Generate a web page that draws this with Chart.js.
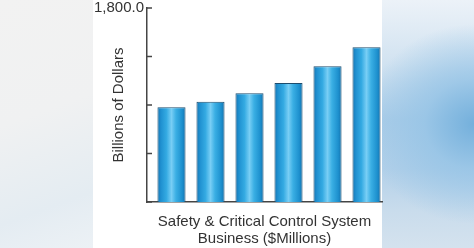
<!DOCTYPE html>
<html>
<head>
<meta charset="utf-8">
<script src="https://cdn.jsdelivr.net/npm/chart.js@4/dist/chart.umd.min.js"></script>
<style>
    html, body { margin: 0; padding: 0; }
    body { width: 474px; height: 248px; position: relative; overflow: hidden; }
    #leftBg { position: absolute; left: 0; top: 0; width: 93px; height: 248px;
        background: linear-gradient(160deg, #f2f2f2 0%, #f0f1f2 45%, #e4ecf2 80%, #ecf1f5 100%); }
    #panel { position: absolute; left: 93px; top: 0; width: 289px; height: 248px; background: #ffffff; }
    #rightBg { position: absolute; left: 382px; top: 0; width: 92px; height: 248px;
        background: radial-gradient(ellipse 110px 100px at 100% 50%, rgba(116,176,220,1) 0%, rgba(150,196,230,0.8) 45%, rgba(190,216,236,0) 100%),
                    linear-gradient(to bottom, #ecf2f8 0%, #d2e3f1 25%, #abcde8 48%, #b2d0e9 68%, #c9dcec 85%, #d4e2ee 100%); }
    #chartBox { position: absolute; left: 0; top: 0; width: 474px; height: 248px; }
</style>
</head>
<body>
<div id="leftBg"></div>
<div id="panel"></div>
<div id="rightBg"></div>
<div id="chartBox"><canvas id="business"></canvas></div>
<script>
// valores (escala 0 - 1.800)
const categories = ['1', '2', '3', '4', '5', '6'];
const businessValues = [880, 930, 1010, 1105, 1260, 1435];
const yTicks = [0, 450, 900, 1350, 1800];
const yTopLabel = '1,800.0';
const yTitle = 'Billions of Dollars';
const xTitle = ['Safety & Critical Control System', 'Business ($Millions)'];

const barPct = 0.72;
const textColor = '#333333';
const axisColor = '#454545';
const fontFamily = '"Liberation Sans", Arial, Helvetica, sans-serif';

// gradiente "cilindro" de cada barra
function barGradient(ctx) {
    const chart = ctx.chart;
    if (!chart.chartArea || ctx.type !== 'data') return '#2a9dd8';
    const xs = chart.scales.x;
    const cx = xs.getPixelForValue(ctx.dataIndex);
    const half = (xs.getPixelForValue(1) - xs.getPixelForValue(0)) * barPct / 2;
    const g = chart.ctx.createLinearGradient(cx - half, 0, cx + half, 0);
    g.addColorStop(0, '#1574b2');
    g.addColorStop(0.12, '#1f90d0');
    g.addColorStop(0.32, '#34aae2');
    g.addColorStop(0.5, '#78cef5');
    g.addColorStop(0.66, '#3aafe4');
    g.addColorStop(0.88, '#1d90ce');
    g.addColorStop(1, '#1472ae');
    return g;
}

// marcas do eixo y para dentro
const innerTicks = {
    id: 'innerTicks',
    afterDraw(chart) {
        const ctx = chart.ctx;
        const ys = chart.scales.y;
        const left = chart.chartArea.left;
        ctx.save();
        ctx.strokeStyle = axisColor;
        ctx.lineWidth = 1.5;
        yTicks.forEach(function (v) {
            const y = ys.getPixelForValue(v);
            ctx.beginPath();
            ctx.moveTo(left, y);
            ctx.lineTo(left + 5, y);
            ctx.stroke();
        });
        ctx.restore();
    }
};

new Chart('business', {
    type: 'bar',
    data: {
        labels: categories,
        datasets: [{
            label: 'Business',
            data: businessValues.map(function (v, i) { return { x: i, y: v }; }),
            backgroundColor: barGradient,
            borderColor: '#1d4d6e',
            borderWidth: 1,
            barPercentage: barPct,
            categoryPercentage: 1
        }]
    },
    options: {
        responsive: true,
        maintainAspectRatio: false,
        animation: false,
        layout: { padding: { left: 93, right: 92, top: 8, bottom: 0 } },
        plugins: { legend: { display: false }, tooltip: { enabled: false } },
        scales: {
            x: {
                type: 'linear',
                min: -0.628,
                max: 5.397,
                offset: false,
                grid: { display: false, offset: false },
                border: { display: true, color: axisColor, width: 1.5 },
                ticks: { display: false },
                title: {
                    display: true,
                    text: xTitle,
                    color: textColor,
                    font: { family: fontFamily, size: 15, lineHeight: 17 / 15 },
                    padding: { top: 0, bottom: 0.5 }
                },
                afterFit: function (scale) { scale.height = 46; }
            },
            y: {
                min: 0,
                max: 1800,
                grid: { display: false, drawTicks: false },
                border: { display: true, color: axisColor, width: 1.5 },
                ticks: {
                    stepSize: 450,
                    padding: 3,
                    color: textColor,
                    font: { family: fontFamily, size: 15 },
                    callback: function (v) { return v === 1800 ? yTopLabel : ''; }
                },
                title: {
                    display: true,
                    text: yTitle,
                    color: textColor,
                    font: { family: fontFamily, size: 15, lineHeight: 1.2 },
                    padding: { top: 17, bottom: 0 }
                },
                afterFit: function (scale) {
                    scale.width = 54;
                    scale.paddingTop = 0;
                    scale.paddingBottom = 0;
                }
            }
        }
    },
    plugins: [innerTicks]
});
</script>
</body>
</html>
